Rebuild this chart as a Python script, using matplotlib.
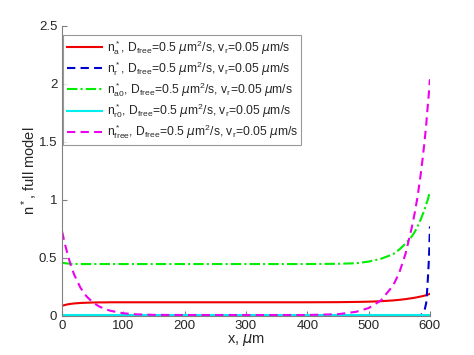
import matplotlib
matplotlib.use('Agg')
import matplotlib.pyplot as plt
from matplotlib.ticker import FormatStrFormatter

plt.rcParams['font.family'] = ['Liberation Sans', 'DejaVu Sans']
plt.rcParams['mathtext.default'] = 'regular'

# positions along the channel (um)
x = [0, 5, 10, 15, 20, 30, 40, 50, 60, 70, 80, 100, 120, 150, 200, 300, 400,
     450, 480, 500, 520, 540, 550, 560, 570, 575, 580, 585, 588, 591, 594,
     595, 596, 597, 598, 599, 600]

n_a = [0.085, 0.092, 0.098, 0.102, 0.105, 0.109, 0.111, 0.113, 0.114, 0.114,
       0.115, 0.115, 0.115, 0.115, 0.115, 0.115, 0.115,
       0.116, 0.118, 0.120, 0.124, 0.131, 0.136, 0.142, 0.150, 0.154, 0.159,
       0.165, 0.168, 0.172, 0.176, 0.178, 0.180, 0.182, 0.184, 0.186, 0.188]

n_r = [0, 0, 0, 0, 0, 0, 0, 0, 0, 0, 0, 0, 0, 0, 0, 0, 0,
       0, 0, 0, 0, 0, 0, 0, 0, 0, 0.002, 0.006, 0.015, 0.04, 0.11,
       0.18, 0.26, 0.35, 0.45, 0.58, 0.77]

n_a0 = [0.455, 0.452, 0.449, 0.447, 0.446, 0.445, 0.445, 0.445, 0.445, 0.445,
        0.445, 0.445, 0.445, 0.445, 0.445, 0.445, 0.445,
        0.447, 0.452, 0.466, 0.49, 0.53, 0.57, 0.62, 0.68, 0.72, 0.77,
        0.83, 0.87, 0.91, 0.96, 0.98, 0.99, 1.01, 1.03, 1.05, 1.07]

n_r0 = [0.006] * len(x)

n_free = [0.725, 0.61, 0.51, 0.42, 0.35, 0.24, 0.165, 0.115, 0.08, 0.056,
          0.04, 0.02, 0.011, 0.006, 0.005, 0.005, 0.005,
          0.012, 0.033, 0.065, 0.13, 0.26, 0.37, 0.53, 0.75, 0.88, 1.03,
          1.22, 1.35, 1.49, 1.65, 1.72, 1.78, 1.84, 1.90, 1.97, 2.04]

lab_tail = r', D$_{free}$=0.5 $\mathit{\mu}$m$^2$/s, v$_r$=0.05 $\mathit{\mu}$m/s'
labels = [r'n$^*_a$' + lab_tail,
          r'n$^*_r$' + lab_tail,
          r'n$^*_{a0}$' + lab_tail,
          r'n$^*_{r0}$' + lab_tail,
          r'n$^*_{free}$' + lab_tail]

fig = plt.figure(figsize=(4.74, 3.55), dpi=100)
ax = fig.add_axes([0.131, 0.111, 0.776, 0.816])

ax.plot(x, n_a, color='#ee0000', lw=1.5, ls='-', label=labels[0])
ax.plot(x, n_r, color='#0000cc', lw=1.5, ls=(0, (4, 2.5)), label=labels[1])
ax.plot(x, n_a0, color='#00ee00', lw=1.5, ls=(0, (5, 1.5, 1, 1.5)), label=labels[2])
ax.plot(x, n_r0, color='#00eeee', lw=1.5, ls='-', label=labels[3])
ax.plot(x, n_free, color='#ee00ee', lw=1.5, ls=(0, (4, 2.5)), label=labels[4])

ax.set_xlim(0, 600)
ax.set_ylim(0, 2.5)
ax.set_xticks([0, 100, 200, 300, 400, 500, 600])
ax.set_yticks([0, 0.5, 1, 1.5, 2, 2.5])
ax.yaxis.set_major_formatter(FormatStrFormatter('%g'))

for side in ['top', 'right']:
    ax.spines[side].set_visible(False)
for side in ['left', 'bottom']:
    ax.spines[side].set_color('#808080')
    ax.spines[side].set_linewidth(0.8)
ax.tick_params(direction='in', length=3.5, width=0.8, color='#808080',
               labelsize=9.5, labelcolor='#262626')

ax.set_xlabel(r'x, $\mathit{\mu}$m', fontsize=10.5, color='#262626', labelpad=0)
ax.set_ylabel(r'n$^*$, full model', fontsize=10.5, color='#262626', labelpad=-1)

leg = ax.legend(loc='upper left', bbox_to_anchor=(0.003, 0.97), fontsize=8.7,
                frameon=True, fancybox=False, edgecolor='#808080',
                handlelength=2.9, handletextpad=0.4, labelspacing=0.2,
                borderpad=0.3, borderaxespad=0)
leg.get_frame().set_linewidth(0.8)
for t in leg.get_texts():
    t.set_color('#262626')

fig.savefig('out.png', dpi=100, facecolor='white')
